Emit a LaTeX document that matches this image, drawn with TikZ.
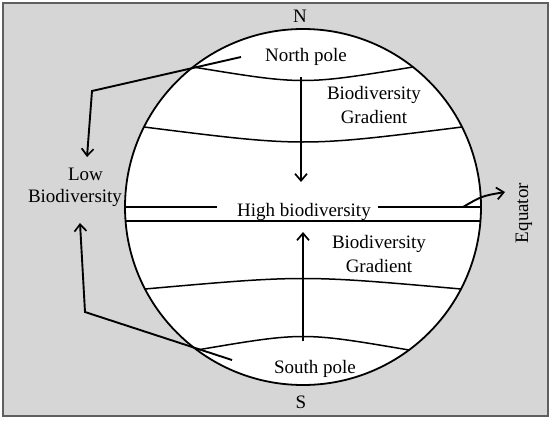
\documentclass[tikz,border=0pt]{standalone}
\usepackage{fontspec}
\setmainfont{Liberation Serif}
\usetikzlibrary{arrows.meta}
\definecolor{bggray}{RGB}{214,214,214}
\definecolor{framegray}{RGB}{95,95,95}
\begin{document}
\begin{tikzpicture}[x=1pt,y=-1pt,
  txt/.style={font=\fontsize{19}{24}\selectfont, inner sep=0pt, anchor=base, align=center},
  conn/.style={line width=1.9pt, line join=miter, -{Straight Barb[length=7pt,width=12pt,line width=1.7pt]}},
  lat/.style={line width=1.5pt},
  globeline/.style={line width=1.8pt}
  ]
\useasboundingbox (0,0) rectangle (553,420);
\draw[fill=bggray, draw=framegray, line width=1.6pt] (3,3) rectangle (548,416);
\node[circle, draw, fill=white, globeline, minimum size=356pt, inner sep=0pt] (globe) at (303,207) {};

% latitude lines
\coordinate (l1a) at (193,67);  \coordinate (l1b) at (413,67);
\coordinate (l2a) at (144,127); \coordinate (l2b) at (462,127);
\coordinate (l3a) at (145,289); \coordinate (l3b) at (461,289);
\coordinate (l4a) at (197,350); \coordinate (l4b) at (409,350);
\draw[lat] (l1a) .. controls (303,85) .. (l1b);
\draw[lat] (l2a) .. controls (303,147) .. (l2b);
\draw[lat] (l3a) .. controls (303,275) .. (l3b);
\draw[lat] (l4a) .. controls (303,332) .. (l4b);

% equator lines
\coordinate (e1a) at (125,207); \coordinate (e1b) at (217,207);
\coordinate (e1c) at (378,207); \coordinate (e1d) at (481,207);
\coordinate (e2a) at (125.6,221); \coordinate (e2b) at (480.4,221);
\draw[lat] (e1a) -- (e1b);
\draw[lat] (e1c) -- (e1d);
\draw[lat] (e2a) -- (e2b);

% texts
\node[txt] (N) at (300,23) {N};
\node[txt] (S) at (301,408) {S};
\node[txt] (np) at (306,61) {North pole};
\node[txt] (sp) at (315,373) {South pole};
\node[txt] (bg1) at (374,123) {Biodiversity\\Gradient};
\node[txt] (bg2) at (379,272) {Biodiversity\\Gradient};
\node[txt] (hb) at (304,216) {High biodiversity};
\node[txt] (lowA) at (85.5,180) {Low};
\node[txt] (lowB) at (75,202) {Biodiversity};
\node[txt, rotate=90] (eq) at (528,213) {Equator};

% vertical gradient arrows
\coordinate (va1) at (301,77);  \coordinate (va2) at (301,182);
\coordinate (vb1) at (303,341); \coordinate (vb2) at (303,232);
\draw[conn] (va1) -- (va2);
\draw[conn] (vb1) -- (vb2);

% low biodiversity connectors
\coordinate (c1a) at (241,57); \coordinate (c1b) at (92,91); \coordinate (c1c) at (87,157);
\coordinate (c2a) at (232,360); \coordinate (c2b) at (85,312); \coordinate (c2c) at (80,223);
\draw[conn] (c1a) -- (c1b) -- (c1c);
\draw[conn] (c2a) -- (c2b) -- (c2c);

% equator arrow
\coordinate (eqa) at (463,207); \coordinate (eqb) at (505,192);
\draw[conn] (eqa) .. controls (482,196) .. (eqb);
\end{tikzpicture}
\end{document}
